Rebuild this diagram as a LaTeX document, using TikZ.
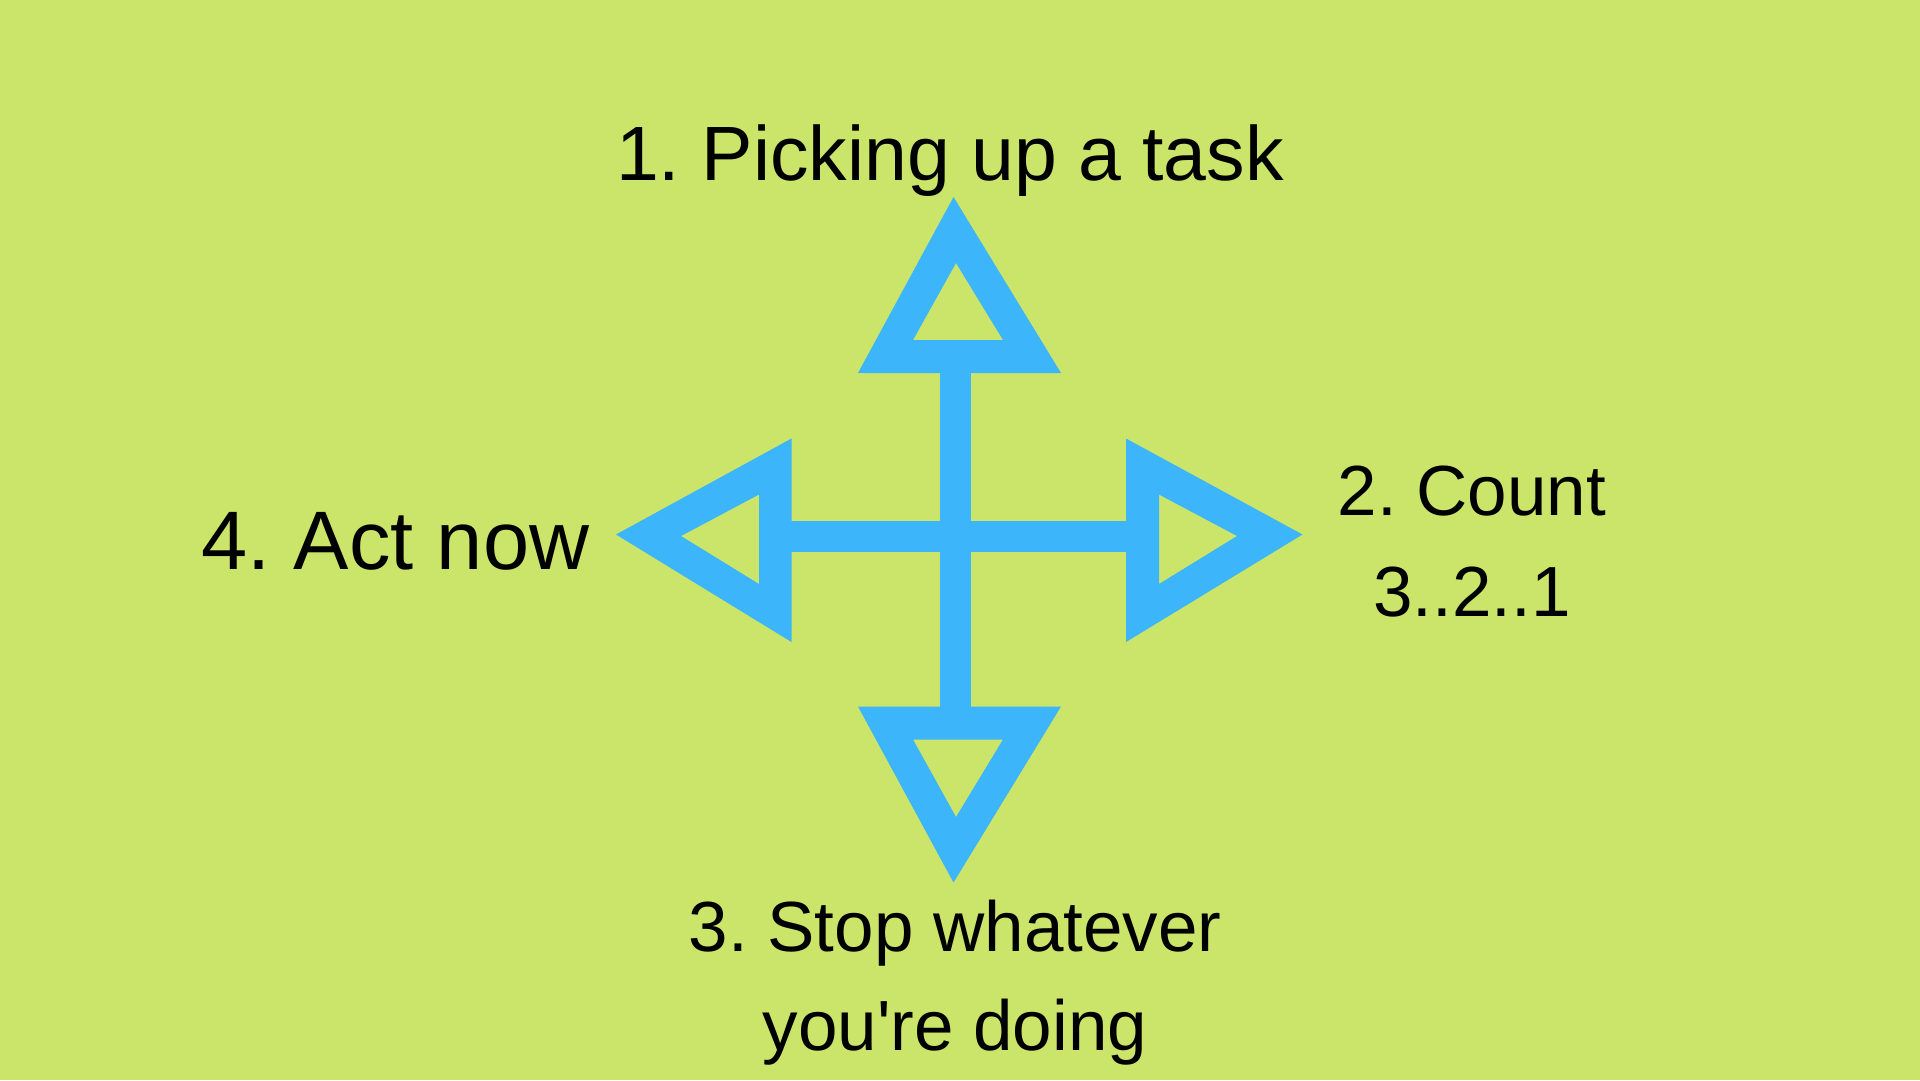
\documentclass[tikz,border=0pt]{standalone}
\usepackage{fontspec}
\setmainfont{Liberation Sans}[Ligatures=TeXOff]
\definecolor{bggreen}{RGB}{203,228,106}
\definecolor{arrowblue}{RGB}{60,181,250}
\frenchspacing

\begin{document}
\begin{tikzpicture}[x=1pt, y=-1pt, head/.style={fill=arrowblue, even odd rule}, bar/.style={fill=arrowblue}, step node/.style={inner sep=0pt, anchor=base, align=center, text=black}] %pixel units, y grows downwards
\fill[bggreen] (0,0) rectangle (1920,1080);
\useasboundingbox (0,0) rectangle (1920,1080);
\fill[bar] (940,373) rectangle (971,707);
\fill[bar] (791,521) rectangle (1126,552);
\fill[head] (953.5,197) -- (858,373) -- (1061,373) -- cycle (956,263) -- (913,340) -- (1003,340) -- cycle;
\fill[head] (953.5,882.5) -- (858,706.5) -- (1061,706.5) -- cycle (956,817) -- (913,739.5) -- (1003,739.5) -- cycle;
\fill[head] (616,534.5) -- (791.5,438.5) -- (791.5,642) -- cycle (681,536) -- (759,494.5) -- (759,584) -- cycle;
\fill[head] (1302.5,534.5) -- (1126,438.5) -- (1126,642) -- cycle (1237,536) -- (1159,494.5) -- (1159,584) -- cycle;
\node[step node, font=\fontsize{77}{100}\selectfont](task) at (950,180){1. Picking up a task};
\node[step node, font=\fontsize{71}{101}\selectfont](count) at (1472,616){2. Count\\3..2..1};
\node[step node, font=\fontsize{71}{99}\selectfont](stop) at (955,1050){3. Stop whatever\\you're doing};
\node[step node, font=\fontsize{83}{100}\selectfont](act) at (395.5,569){4. Act now};
\end{tikzpicture}
\end{document}
